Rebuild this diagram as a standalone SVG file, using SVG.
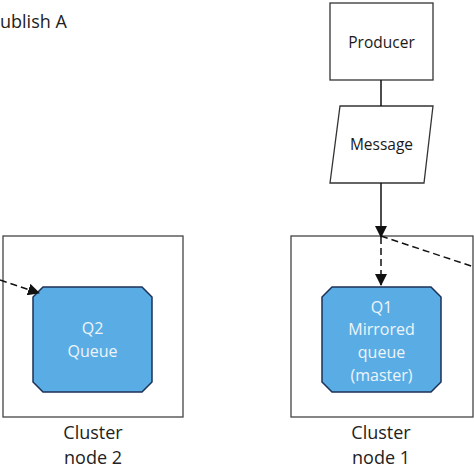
<svg xmlns="http://www.w3.org/2000/svg" width="474" height="474" viewBox="0 0 474 474">
<style>
text{font-family:"Open Sans","Liberation Sans",sans-serif;text-anchor:middle;}
.box{fill:#ffffff;stroke:#333333;stroke-width:1.3;}
.cluster{fill:#ffffff;stroke:#444444;stroke-width:1.3;}
.q{fill:#5aade4;stroke:#1c3155;stroke-width:1.5;}
.dark{fill:#1a1a1a;font-size:15.5px;}
.lbl{fill:#222222;font-size:18px;}
.qt{fill:#eef4fa;font-size:16px;}
.solid{stroke:#111;stroke-width:1.5;fill:none;}
.dash{stroke:#111;stroke-width:1.5;fill:none;stroke-dasharray:7 4;}
</style>
<defs>
<marker id="ah" markerWidth="12" markerHeight="12" refX="11" refY="6" orient="auto" markerUnits="userSpaceOnUse">
<path d="M0,0 L12,6 L0,12 Z" fill="#111"/>
</marker>
</defs>
<rect width="474" height="474" fill="#ffffff"/>
<text x="0" y="28" style="text-anchor:start;font-size:18px;fill:#222">ublish A</text>
<g id="cluster2">
<rect class="cluster" x="3" y="236" width="180" height="181"/>
<text class="lbl" x="93" y="439">Cluster</text>
<text class="lbl" x="93" y="464">node 2</text>
</g>
<g id="cluster1">
<rect class="cluster" x="291" y="236" width="182" height="181"/>
<text class="lbl" x="381" y="439">Cluster</text>
<text class="lbl" x="381" y="464">node 1</text>
</g>
<g id="q2">
<path class="q" d="M43,287 L142,287 L152,297 L152,382 L142,392 L43,392 L33,382 L33,297 Z"/>
<text class="qt" x="92.5" y="334">Q2</text>
<text class="qt" x="92.5" y="357">Queue</text>
</g>
<g id="q1">
<path class="q" d="M332,287 L431,287 L441,297 L441,382 L431,392 L332,392 L322,382 L322,297 Z"/>
<text class="qt" x="381.5" y="313">Q1</text>
<text class="qt" x="381.5" y="335">Mirrored</text>
<text class="qt" x="381.5" y="358">queue</text>
<text class="qt" x="381.5" y="381">(master)</text>
</g>
<g id="producer">
<rect class="box" x="330" y="3" width="103" height="77"/>
<text class="dark" x="381.5" y="48">Producer</text>
</g>
<g id="message">
<path class="box" d="M340,106 L433,106 L424,183 L330,183 Z"/>
<text class="dark" x="381.5" y="150">Message</text>
</g>
<g id="connectors">
<line class="solid" x1="381" y1="80" x2="381" y2="106"/>
<line class="solid" x1="381" y1="183" x2="381" y2="237" marker-end="url(#ah)"/>
<line class="dash" x1="381" y1="237" x2="381" y2="285" marker-end="url(#ah)"/>
<line class="dash" x1="381" y1="236" x2="474" y2="267"/>
<line class="dash" x1="0" y1="280" x2="39" y2="293" marker-end="url(#ah)"/>
</g>
</svg>
